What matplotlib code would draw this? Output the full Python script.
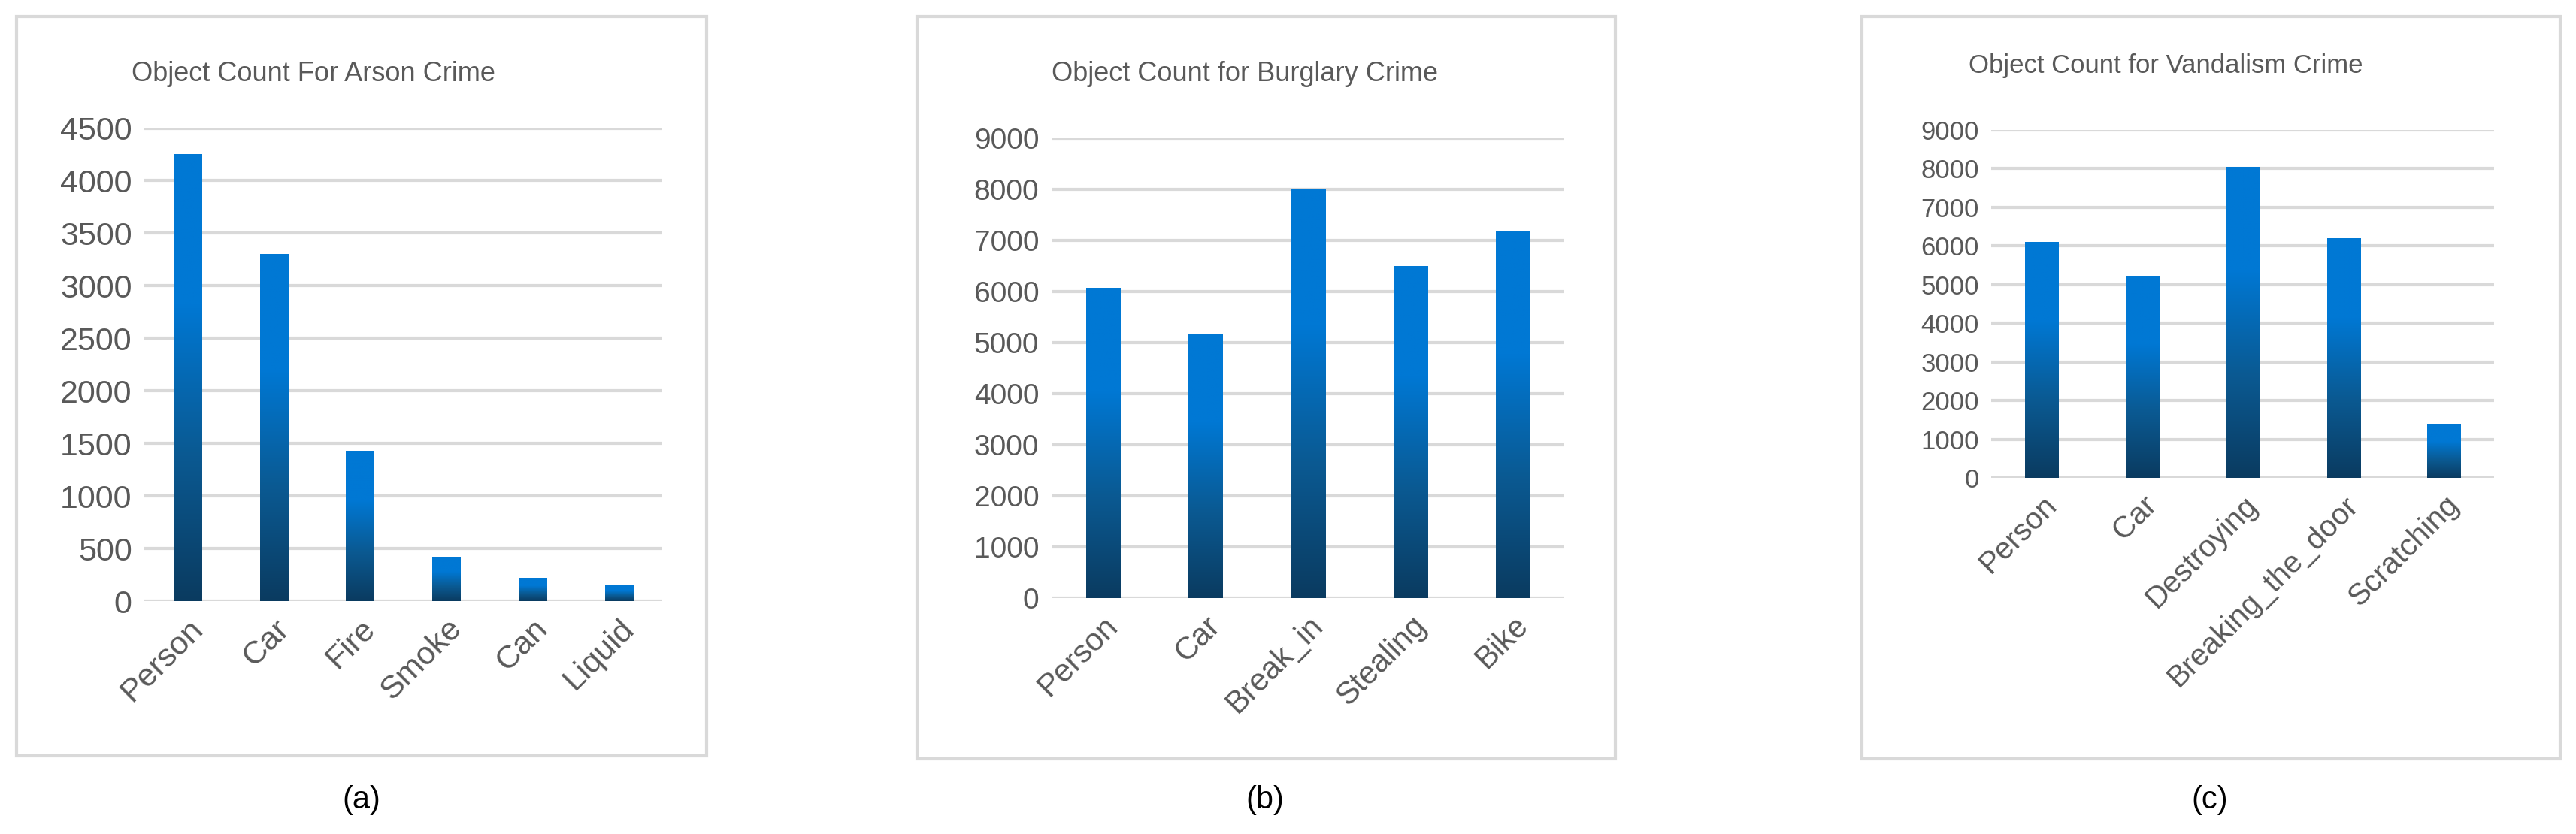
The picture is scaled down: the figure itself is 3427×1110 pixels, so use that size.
import matplotlib
matplotlib.use("Agg")
import matplotlib.pyplot as plt
import numpy as np
from matplotlib.colors import LinearSegmentedColormap
from matplotlib.patches import Rectangle

plt.rcParams['font.family'] = ['Liberation Sans', 'DejaVu Sans']

arson_cats = ["Person", "Car", "Fire", "Smoke", "Can", "Liquid"]
arson_vals = [4250, 3300, 1430, 420, 220, 150]
burg_cats = ["Person", "Car", "Break_in", "Stealing", "Bike"]
burg_vals = [6070, 5170, 8000, 6500, 7170]
vand_cats = ["Person", "Car", "Destroying", "Breaking_the_door", "Scratching"]
vand_vals = [6100, 5200, 8050, 6200, 1400]

W, H = 3427, 1110
fig = plt.figure(figsize=(W/100, H/100), dpi=100)
grey = "#595959"
cmap = LinearSegmentedColormap.from_list("g", ["#0b3b60", "#0a5a93", "#0078d4", "#0078d4"])
grad = np.linspace(0, 1, 256).reshape(-1, 1)

S = 2.186
def fr(x0, x1, y0, y1):
    return [x0*S/W, 1-y1*S/H, (x1-x0)*S/W, (y1-y0)*S/H]

panels = [
    dict(box=(10, 430, 10, 460), ax=(88, 403, 78, 366), cats=arson_cats, vals=arson_vals,
         ymax=4500, step=500, title="Object Count For Arson Crime", tfs=26, fs=31, xfs=31, cap="(a)", cx=220, ty=45, tx=80),
    dict(box=(558, 983, 10, 462), ax=(640, 952, 84, 364), cats=burg_cats, vals=burg_vals,
         ymax=9000, step=1000, title="Object Count for Burglary Crime", tfs=26, fs=28, xfs=30, cap="(b)", cx=770, ty=45, tx=640),
    dict(box=(1133, 1558, 10, 462), ax=(1212, 1518, 79, 291), cats=vand_cats, vals=vand_vals,
         ymax=9000, step=1000, title="Object Count for Vandalism Crime", tfs=25, fs=25, xfs=29, cap="(c)", cx=1345, ty=40, tx=1198),
]

for p in panels:
    bx0, bx1, by0, by1 = p["box"]
    fig.add_artist(Rectangle((bx0*S/W, 1-by1*S/H), (bx1-bx0)*S/W, (by1-by0)*S/H,
                             transform=fig.transFigure, fill=False, ec="#d9d9d9", lw=3))
    ax = fig.add_axes(fr(*p["ax"]))
    n = len(p["cats"])
    x = np.arange(n)
    bars = ax.bar(x, p["vals"], width=0.33, color="none", zorder=3)
    for b in bars:
        x0, w, h = b.get_x(), b.get_width(), b.get_height()
        im = ax.imshow(grad, extent=[x0, x0+w, 0, h], origin="lower", cmap=cmap,
                       aspect="auto", zorder=3)
        im.set_clip_path(b)
    ax.set_xlim(-0.5, n-0.5)
    ax.set_ylim(0, p["ymax"])
    ax.set_yticks(np.arange(0, p["ymax"]+1, p["step"]))
    ax.yaxis.grid(True, color="#d9d9d9", lw=3, zorder=0)
    ax.set_xticks(x)
    ax.set_xticklabels(p["cats"], rotation=45, ha="right", rotation_mode="anchor")
    ax.tick_params(axis="y", length=0, labelsize=p["fs"], colors=grey, pad=12)
    ax.tick_params(axis="x", length=0, labelsize=p["xfs"], colors=grey, pad=12)
    for s in ax.spines.values():
        s.set_visible(False)
    fig.text(p["tx"]*S/W, 1-p["ty"]*S/H, p["title"], fontsize=p["tfs"], color=grey, va="center")
    fig.text(p["cx"]*S/W, 1-487*S/H, p["cap"], fontsize=30, color="black", ha="center", va="center")

fig.savefig("out.png", dpi=100)
